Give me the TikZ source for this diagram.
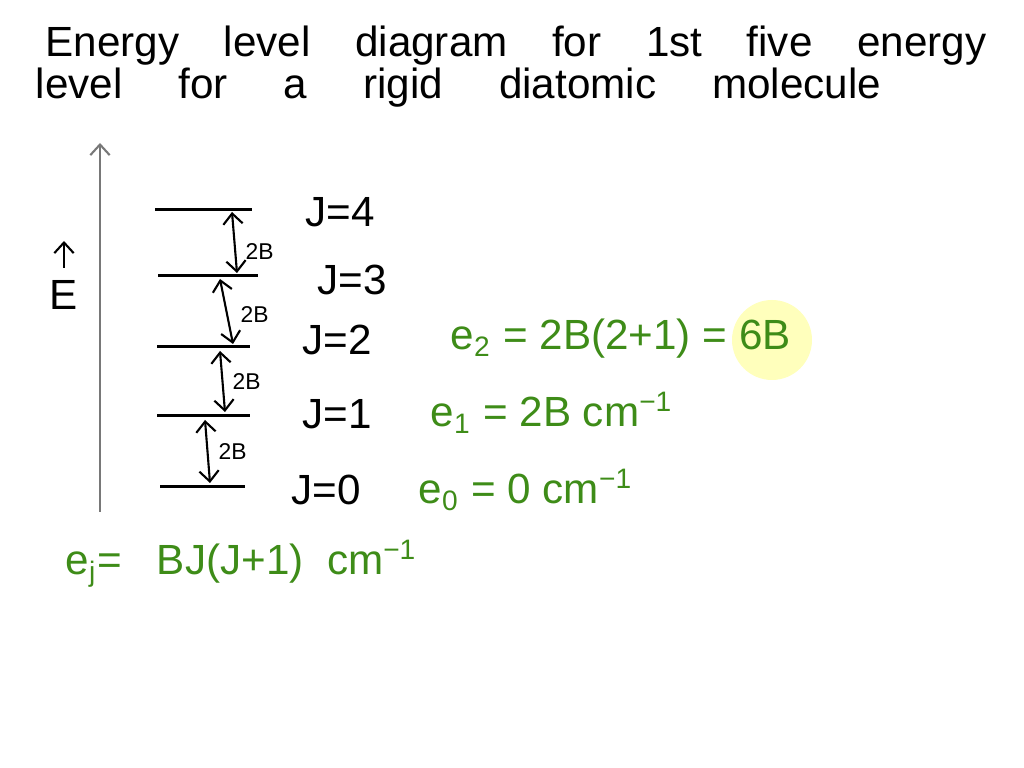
\documentclass[tikz,border=0pt]{standalone}
\usepackage{fontspec}
\setmainfont{Liberation Sans}
\usepackage{tikz}
\usetikzlibrary{arrows.meta, positioning}
\definecolor{inkgreen}{RGB}{62,140,24}
\definecolor{inkgray}{RGB}{120,120,120}
\definecolor{marker}{RGB}{255,255,188}
\tikzset{
  x=0.01cm, y=-0.01cm,
  >={Straight Barb[length=3pt,width=5.5pt]},
  level/.style={line width=0.85pt},
  gap/.style={<->, line width=0.6pt},
  gaplabel/.style={font=\fontsize{6.5}{8}\selectfont, anchor=west, inner sep=0pt},
  jlabel/.style={font=\fontsize{12}{14}\selectfont, inner sep=0pt},
  title/.style={font=\fontsize{12}{14}\selectfont, anchor=base west, inner sep=0pt},
  eqn/.style={text=inkgreen, font=\fontsize{12}{14}\selectfont, anchor=base west, inner sep=0pt},
}

\begin{document}
\begin{tikzpicture}
  \useasboundingbox (0,0) rectangle (1024,768);

  % heading
  \node[title] (title1) at (45,57) {\makebox[9.4cm][s]{Energy\hfill level\hfill diagram\hfill for\hfill 1st\hfill five\hfill energy}};
  \node[title] (title2) at (35,99) {\makebox[8.45cm][s]{level\hfill for\hfill a\hfill rigid\hfill diatomic\hfill molecule}};

  % energy axis
  \coordinate (ybot) at (100,512);
  \coordinate (ytop) at (100,143);
  \draw[->, inkgray, line width=0.6pt] (ybot) -- (ytop);
  \node[font=\fontsize{12}{14}\selectfont, inner sep=0pt] (elabel) at (64,295) {E};
  \coordinate (eat) at (64,268);
  \coordinate (eah) at (64,241);
  \draw[->, line width=0.6pt] (eat) -- (eah);

  % levels
  \foreach \j/\yy/\xa/\xb in {0/487/160/245, 1/416/157/250, 2/347/157/250, 3/276/158/258, 4/210/155/252}
    \draw[level] (\xa,\yy) coordinate (la\j) -- (\xb,\yy) coordinate (lb\j);

  % spacings
  \foreach \lo/\hi/\xl/\xh/\yl/\yh/\tx/\ty in {0/1/210/205/483/420/218/452,
      1/2/225/220/412/351/232/382, 2/3/233/220/344/279/240/315, 3/4/237/232/273/212/245/252} {
    \coordinate (gb\lo) at (\xl,\yl);
    \coordinate (gt\lo) at (\xh,\yh);
    \draw[gap] (gb\lo) -- (gt\lo);
    \node[gaplabel] (gl\lo) at (\tx,\ty) {2B};
  }

  % quantum numbers
  \node[jlabel] (j4) at (340,212) {J=4};
  \node[jlabel] (j3) at (352,280) {J=3};
  \node[jlabel] (j2) at (337,340) {J=2};
  \node[jlabel] (j1) at (337,414) {J=1};
  \node[jlabel] (j0) at (326,490) {J=0};

  % energies
  \fill[marker] (772,340) circle (40);
  \node[eqn] (eq2) at (450,350) {e\textsubscript{2} = 2B(2+1) = 6B};
  \node[eqn] (eq1) at (430,427) {e\textsubscript{1} = 2B cm\textsuperscript{−1}};
  \node[eqn] (eq0) at (418,504) {e\textsubscript{0} = 0 cm\textsuperscript{−1}};
  \node[eqn] (eqj) at (65,575) {e\textsubscript{j}=\ \ \ BJ(J+1)\ \ cm\textsuperscript{−1}};
\end{tikzpicture}
\end{document}
